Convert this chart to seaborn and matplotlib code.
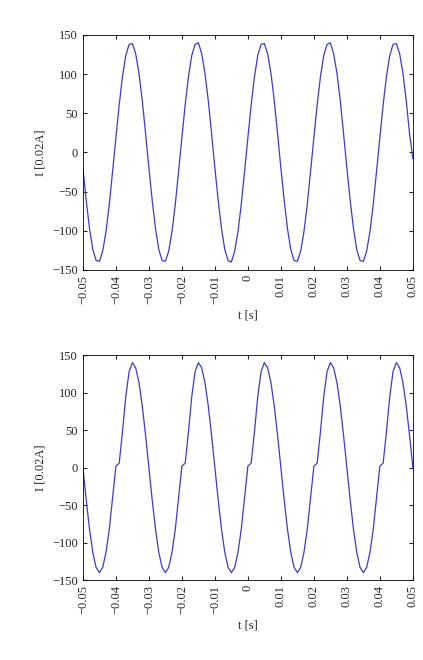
import numpy as np
import pandas as pd
import matplotlib
matplotlib.use('Agg')
import matplotlib.pyplot as plt
import seaborn as sns

# sample times, 1 ms steps
t = [round(-0.05 + 0.001 * i, 3) for i in range(101)]

# current readings for the top plot (clean sine)
i_top = [
    -20, -61, -97, -124, -138, -139, -126, -101, -66, -24, 19, 61, 97, 124, 138, 139, 126, 101, 66, 24,
    -20, -61, -97, -124, -138, -139, -126, -101, -66, -24, 19, 61, 97, 124, 138, 140, 126, 101, 66, 24,
    -20, -61, -97, -124, -138, -140, -126, -101, -66, -24, 19, 61, 97, 124, 138, 139, 126, 101, 66, 24,
    -20, -61, -97, -124, -138, -139, -126, -101, -66, -24, 19, 61, 97, 124, 138, 140, 126, 101, 66, 24,
    -20, -61, -97, -124, -138, -139, -126, -101, -66, -24, 19, 61, 97, 124, 138, 139, 126, 101, 66, 24,
    -8,
]

# current readings for the bottom plot (notch near rising zero crossing)
i_bot = [
    0, -43, -82, -113, -133, -140, -133, -113, -82, -40, 2, 6, 48, 95, 128, 140, 133, 113, 82, 43,
    0, -43, -82, -113, -133, -140, -133, -113, -82, -40, 2, 6, 48, 95, 128, 140, 133, 113, 82, 43,
    0, -43, -82, -113, -133, -140, -133, -113, -82, -40, 2, 6, 48, 95, 128, 140, 133, 113, 82, 43,
    0, -43, -82, -113, -133, -140, -133, -113, -82, -40, 2, 6, 48, 95, 128, 140, 133, 113, 82, 43,
    0, -43, -82, -113, -133, -140, -133, -113, -82, -40, 2, 6, 48, 95, 128, 140, 133, 113, 82, 43,
    0,
]

xticks = [-0.05, -0.04, -0.03, -0.02, -0.01, 0, 0.01, 0.02, 0.03, 0.04, 0.05]
xlabels = ['-0.05', '-0.04', '-0.03', '-0.02', '-0.01', '0', '0.01', '0.02', '0.03', '0.04', '0.05']
yticks = [-150, -100, -50, 0, 50, 100, 150]

sns.set_style('white')
plt.rcParams['font.family'] = ['Liberation Serif', 'DejaVu Serif']

fig = plt.figure(figsize=(4.23, 6.6), dpi=100)
ax1 = fig.add_axes([0.196, 0.591, 0.78, 0.356])
ax2 = fig.add_axes([0.196, 0.121, 0.78, 0.341])

for ax, vals in [(ax1, i_top), (ax2, i_bot)]:
    df = pd.DataFrame({'t': t, 'i': vals})
    sns.lineplot(data=df, x='t', y='i', ax=ax, color='#3b3bd0', linewidth=0.9)
    ax.set_xlim(-0.05, 0.05)
    ax.set_ylim(-150, 150)
    ax.set_xticks(xticks)
    ax.set_xticklabels([s.replace('-', '\u2212') for s in xlabels], rotation=90, fontsize=9)
    ax.set_yticks(yticks)
    ax.set_yticklabels([str(v).replace('-', '\u2212') for v in yticks], fontsize=9)
    ax.tick_params(direction='in', length=3, left=True, bottom=True, top=True, right=True)
    ax.set_xlabel('t [s]', fontsize=9)
    ax.set_ylabel('I [0.02A]', fontsize=9)
    for s in ax.spines.values():
        s.set_color('black')
        s.set_linewidth(0.6)

fig.savefig('out.png', dpi=100)
